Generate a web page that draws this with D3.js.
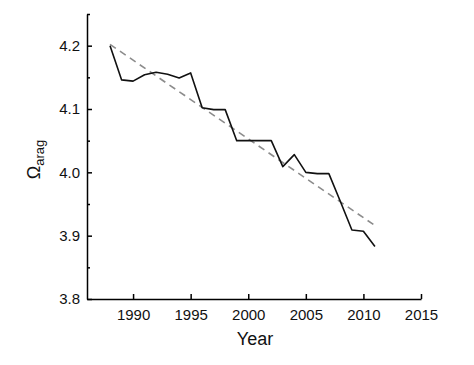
<!DOCTYPE html>
<html>
<head>
<meta charset="utf-8">
<script src="https://cdn.jsdelivr.net/npm/d3@7"></script>
<style>
    body { margin: 0; background: #fff; }
    .axis text { font-family: "Liberation Sans", Arial, sans-serif; font-size: 15px; fill: #111; }
    .axis path, .axis line { stroke: #000; stroke-width: 1.5; }
</style>
</head>
<body>
<script>
// yearly saturation values
var years = [1988, 1989, 1990, 1991, 1992, 1993, 1994, 1995, 1996, 1997, 1998, 1999,
             2000, 2001, 2002, 2003, 2004, 2005, 2006, 2007, 2008, 2009, 2010, 2011];
var omega = [4.200, 4.146, 4.144, 4.154, 4.158, 4.155, 4.149, 4.157, 4.102, 4.099, 4.099, 4.050,
             4.050, 4.050, 4.050, 4.009, 4.028, 4.000, 3.998, 3.998, 3.954, 3.909, 3.907, 3.883];
// linear fit, end points
var trendYears = [1988, 2011];
var trendValues = [4.202, 3.916];

var xTicks = [1990, 1995, 2000, 2005, 2010, 2015];
var yTicks = [3.8, 3.9, 4.0, 4.1, 4.2];
var yMinorTicks = [3.85, 3.95, 4.05, 4.15, 4.25];

var width = 474, height = 365;
var margin = {top: 14, right: 53, bottom: 66, left: 87};

var svg = d3.select("body").append("svg")
    .attr("width", width)
    .attr("height", height);

var xScale = d3.scaleLinear().domain([1986, 2015]).range([margin.left, width - margin.right]);
var yScale = d3.scaleLinear().domain([3.8, 4.25]).range([height - margin.bottom, margin.top]);

// axes with ticks pointing inward
svg.append("g")
    .attr("class", "axis")
    .attr("transform", "translate(0," + (height - margin.bottom) + ")")
    .call(d3.axisBottom(xScale).tickValues(xTicks).tickSizeInner(-5).tickSizeOuter(0)
        .tickPadding(10).tickFormat(d3.format("d")));

svg.append("g")
    .attr("class", "axis")
    .attr("transform", "translate(" + margin.left + ",0)")
    .call(d3.axisLeft(yScale).tickValues(yTicks).tickSizeInner(-5).tickSizeOuter(0)
        .tickPadding(7).tickFormat(d3.format(".1f")));

svg.append("g")
    .attr("class", "axis")
    .attr("transform", "translate(" + margin.left + ",0)")
    .call(d3.axisLeft(yScale).tickValues(yMinorTicks).tickSizeInner(-3).tickSizeOuter(0).tickFormat(""))
    .select(".domain").remove();

// trend line
var pts = years.map(function(y, i) { return [y, omega[i]]; });
var line = d3.line()
    .x(function(d) { return xScale(d[0]); })
    .y(function(d) { return yScale(d[1]); });

svg.append("path")
    .datum(trendYears.map(function(y, i) { return [y, trendValues[i]]; }))
    .attr("d", line)
    .attr("fill", "none")
    .attr("stroke", "#8c8c8c")
    .attr("stroke-width", 1.6)
    .attr("stroke-dasharray", "7,5");

svg.append("path")
    .datum(pts)
    .attr("d", line)
    .attr("fill", "none")
    .attr("stroke", "#111")
    .attr("stroke-width", 1.6)
    .attr("stroke-linejoin", "round");

// axis titles
svg.append("text")
    .attr("x", (margin.left + width - margin.right) / 2 + 1)
    .attr("y", 345)
    .attr("text-anchor", "middle")
    .style("font-family", "Liberation Sans, Arial, sans-serif")
    .style("font-size", "18px")
    .style("fill", "#111")
    .text("Year");

var yTitle = svg.append("text")
    .attr("transform", "translate(40," + ((margin.top + height - margin.bottom) / 2 + 3) + ") rotate(-90)")
    .attr("text-anchor", "middle")
    .style("font-family", "Liberation Sans, Arial, sans-serif")
    .style("font-size", "18px")
    .style("fill", "#111");
yTitle.append("tspan").text("Ω");
yTitle.append("tspan").attr("dy", 4).style("font-size", "13px").text("arag");
</script>
</body>
</html>
